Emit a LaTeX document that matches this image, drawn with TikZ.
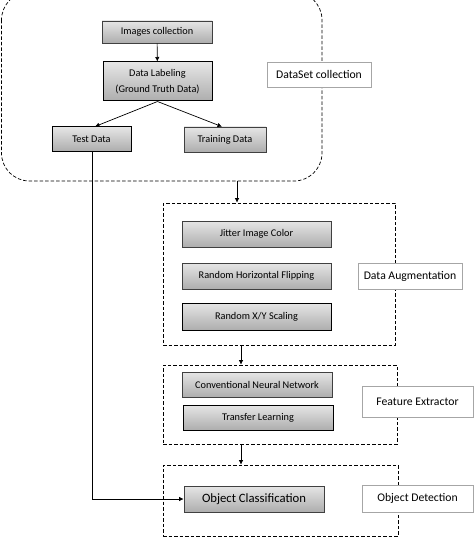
\documentclass[tikz,border=0pt]{standalone}
\usepackage{fontspec}
\setmainfont{Carlito}
\usetikzlibrary{arrows.meta}
\begin{document}
\begin{tikzpicture}[x=1pt,y=-1pt,
  proc/.style={draw=black!75, line width=0.7pt, top color=black!10, bottom color=black!32, inner sep=0pt, font=\fontsize{10.3}{15.5}\selectfont, align=center},
  procb/.style={proc, draw=black, line width=1pt},
  lab/.style={draw=black!35, line width=0.6pt, fill=white, inner sep=0pt, font=\fontsize{11.7}{13}\selectfont},
  grp/.style={draw=black, line width=0.7pt, dash pattern=on 3.5pt off 2pt},
  arr/.style={-{Latex[length=4.5pt,width=4.5pt]}, line width=0.7pt, black}]
\useasboundingbox (0,0) rectangle (474,559);
\fill[white] (0,0) rectangle (474,559);

% groups
\draw[grp, rounded corners=28pt] (1.5,-8) rectangle (322,181);
\coordinate (g1b) at (237,181);
\node[grp, draw, minimum width=232pt, minimum height=142pt, inner sep=0pt] (g2) at (279,274) {};
\node[grp, draw, minimum width=234pt, minimum height=79pt, inner sep=0pt] (g3) at (280,404.5) {};
\node[grp, draw, minimum width=235pt, minimum height=71pt, inner sep=0pt] (g4) at (280.5,500.5) {};

% dataset collection
\node[proc, minimum width=110pt, minimum height=22pt] (img) at (157,32) {Images collection};
\node[procb, minimum width=109pt, minimum height=39pt] (lbl) at (157.5,81.5) {Data Labeling\\(Ground Truth Data)};
\node[procb, minimum width=79pt, minimum height=24pt] (test) at (91.5,139) {Test Data};
\node[proc, minimum width=82pt, minimum height=25pt] (train) at (225,139.5) {Training Data};
\node[lab, minimum width=104pt, minimum height=25pt] (l1) at (319,74.5) {DataSet collection};

% augmentation
\node[proc, minimum width=149pt, minimum height=26pt] (jit) at (256.5,234) {Jitter Image Color};
\node[proc, minimum width=149pt, minimum height=26pt] (flip) at (256.5,276) {Random Horizontal Flipping};
\node[procb, minimum width=149pt, minimum height=27pt] (scal) at (256.5,316.5) {Random X/Y Scaling};
\node[lab, minimum width=104pt, minimum height=26pt] (l2) at (410,276) {Data Augmentation};

% feature extractor
\node[proc, minimum width=150pt, minimum height=25pt] (cnn) at (257,384.5) {Conventional Neural Network};
\node[procb, minimum width=150pt, minimum height=25pt] (tl) at (258,417.5) {Transfer Learning};
\node[lab, minimum width=111pt, minimum height=31pt] (l3) at (417.5,401.5) {Feature Extractor};

% detection
\node[proc, minimum width=140pt, minimum height=26pt, font=\fontsize{12.7}{14}\selectfont] (oc) at (254,499) {Object Classification};
\node[lab, minimum width=111pt, minimum height=27pt] (l4) at (417.5,498.5) {Object Detection};

% connectors
\draw[arr] (img) -- (lbl);
\draw[arr] (lbl.south) -- (test.north -| 95,0);
\draw[arr] (lbl.south) -- (train.north -| 222,0);
\draw[arr] (g1b) -- (g2.north -| g1b);
\draw[arr] (g2.south -| 241,0) -- (g3.north -| 241,0);
\draw[arr] (g3.south -| 241,0) -- (g4.north -| 241,0);
\draw[arr] (test.south -| 92,0) |- (oc.west);
\end{tikzpicture}
\end{document}
